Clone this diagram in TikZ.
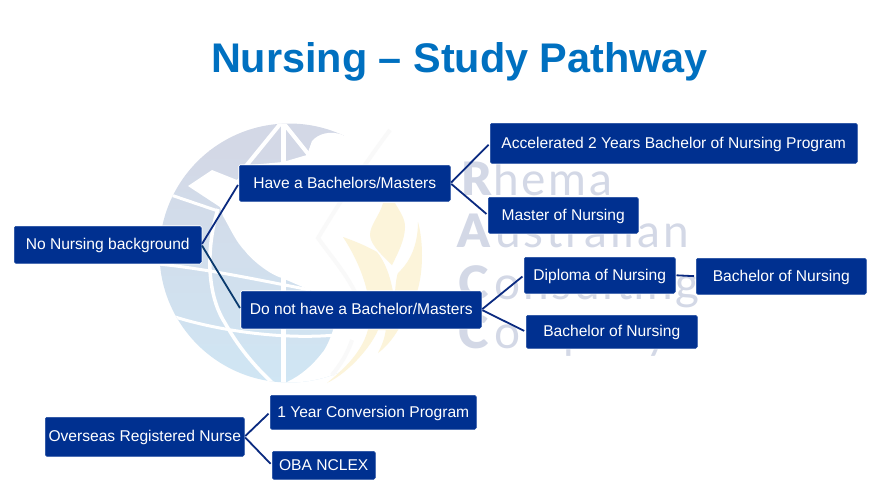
\documentclass[tikz,border=0pt]{standalone}
\usepackage{fontspec}
\setmainfont{Liberation Sans}
\newfontfamily\wmlight{Lato}[LetterSpace=6]
\newfontfamily\wmbold{Lato Black}
\definecolor{boxblue}{HTML}{003090}
\definecolor{boxedge}{HTML}{1F4BA0}
\definecolor{linkblue}{HTML}{0A2A80}
\definecolor{linkteal}{HTML}{0A3A6E}
\definecolor{titleblue}{HTML}{0070C0}
\definecolor{wmgrey}{HTML}{D3D8E6}
\definecolor{wmblue}{HTML}{D0E6F4}
\definecolor{wmflame}{HTML}{FCF4DA}
\definecolor{wmswoosh}{HTML}{F9F9F9}
\tikzset{
  stepbox/.style={draw=boxedge,line width=0.5pt,fill=boxblue,rounded corners=1.5pt,text=white,
    font=\fontsize{15.6}{17}\selectfont,inner sep=0pt,anchor=north west,text height=11pt,text depth=1pt,
    preaction={draw=white,line width=2pt}},
  link/.style={draw=linkblue,line width=1.8pt,shorten >=2pt,shorten <=1pt},
  wmlet/.style={text=wmgrey,anchor=base west,inner sep=0pt,font=\wmlight\fontsize{46}{46}\selectfont},
  wmcap/.style={text=wmgrey,anchor=base west,inner sep=0pt,font=\wmbold\fontsize{46}{46}\selectfont},
  gridline/.style={white,line width=3pt}
}
\begin{document}
\begin{tikzpicture}[x=1pt,y=-1pt]
\useasboundingbox (0,0) rectangle (871,499);
\fill[white] (0,0) rectangle (871,499);
% watermark globe
\begin{scope}
  \clip (289,253) circle (129.5);
  \shade[top color=wmgrey,bottom color=wmblue] (155,150) rectangle (345,385);
  \fill[wmgrey] (155,120) rectangle (345,151);
  % white cut on the right side of the globe
  \fill[white] (343,135) .. controls (330,130) and (318,134) .. (312,141) -- (307,155) -- (283,162) -- (250,165) -- (237,180)
    -- (212,170) -- (188,186) -- (220,207) -- (223,216) .. controls (230,228) and (236,242) .. (245,251)
    .. controls (250,258) and (268,274) .. (282,278) -- (305,288) -- (345,305) -- (333,330)
    .. controls (330,340) and (325,350) .. (322,353) .. controls (312,366) and (300,376) .. (287,382)
    -- (287,400) -- (430,400) -- (430,100) -- (343,100) -- cycle;
  % grid lines
  \draw[gridline] (168,194) -- (218,211);
  \draw[gridline,line width=3.5pt] (218,209) .. controls (208,240) and (204,290) .. (225,323) .. controls (240,350) and (258,370) .. (278,388);
  \draw[gridline] (158,264) .. controls (200,268) and (250,278) .. (310,290);
  \draw[gridline] (172,316) .. controls (215,330) and (280,340) .. (336,335);
  \draw[gridline,line width=5pt] (283,120) -- (283,162);
  \draw[gridline,line width=5pt] (283,270) -- (283,390);
  \draw[gridline,line width=4pt] (281,123) -- (246,166);
  \draw[gridline,line width=4pt] (285,125) -- (309,155);
\end{scope}
% faint swoosh
\draw[wmswoosh,line width=4pt] (390,130) .. controls (360,170) and (335,210) .. (318,238) .. controls (330,255) and (345,272) .. (355,292);
\draw[wmswoosh,line width=4pt] (352,340) .. controls (347,355) and (340,365) .. (332,375);
% watermark flame
\fill[wmflame] (383,203) -- (395,203) .. controls (400,212) and (405,218) .. (405,227) .. controls (405,240) and (397,255) .. (392,265) .. controls (385,258) and (370,245) .. (370,235) .. controls (370,225) and (380,215) .. (383,203) -- cycle;
\fill[wmflame] (343,237) .. controls (360,243) and (370,248) .. (377,252) .. controls (385,262) and (390,275) .. (393,292) -- (390,330) -- (378,330) .. controls (372,345) and (350,372) .. (327,383) .. controls (345,368) and (372,345) .. (370,310) .. controls (368,285) and (358,260) .. (343,237) -- cycle;
\fill[wmflame] (418,222) .. controls (423,240) and (424,270) .. (417,292) -- (398,330) .. controls (392,340) and (385,348) .. (378,353) .. controls (382,345) and (385,338) .. (386,328) -- (395,292) .. controls (396,280) and (397,275) .. (398,273) .. controls (410,262) and (418,245) .. (418,222) -- cycle;
% watermark text
\node[wmcap] (wmR) at (461,195) {R};
\node[wmlet] (wmh) at (493,195) {hema};
\node[wmcap] (wmA) at (457,247) {A};
\node[wmlet] (wmu) at (495,247) {ustralian};
\node[wmcap] (wmC) at (458,299) {C};
\node[wmlet] (wmo) at (494,299) {onsulting};
\node[wmcap] (wmD) at (458,348) {C};
\node[wmlet] (wmp) at (494,348) {ompany};
% title
\node[text=titleblue,font=\bfseries\fontsize{41.4}{44}\selectfont,inner sep=0pt] (title) at (459.5,62) {Nursing – Study Pathway};
% boxes
\node[stepbox,minimum width=187pt,minimum height=37pt] (nn) at (14,226) {No Nursing background};
\node[stepbox,minimum width=211pt,minimum height=36pt] (hb) at (239,165) {Have a Bachelors/Masters};
\node[stepbox,minimum width=240pt,minimum height=37pt] (dn) at (241,291) {Do not have a Bachelor/Masters};
\node[stepbox,minimum width=367pt,minimum height=40pt] (ac) at (490,123) {Accelerated 2 Years Bachelor of Nursing Program};
\node[stepbox,minimum width=150pt,minimum height=36pt] (mn) at (488,197) {Master of Nursing};
\node[stepbox,minimum width=151pt,minimum height=36pt] (dp) at (524,257) {Diploma of Nursing};
\node[stepbox,minimum width=170pt,minimum height=36pt] (b1) at (696,258) {Bachelor of Nursing};
\node[stepbox,minimum width=171pt,minimum height=33pt] (b2) at (526,315) {Bachelor of Nursing};
\node[stepbox,minimum width=199pt,minimum height=39pt] (ov) at (45,417) {Overseas Registered Nurse};
\node[stepbox,minimum width=206pt,minimum height=34pt] (yr) at (270,395) {1 Year Conversion Program};
\node[stepbox,minimum width=103pt,minimum height=28pt] (ob) at (272,451) {OBA NCLEX};
% connectors
\draw[link] (nn.east) -- (hb.west);
\draw[link,draw=linkteal] (nn.east) -- (dn.west);
\draw[link] (hb.east) -- (ac.west);
\draw[link] (hb.east) -- (mn.west);
\draw[link] (dn.east) -- (dp.west);
\draw[link] (dn.east) -- (b2.west);
\draw[link] (dp.east) -- (b1.west);
\draw[link] (ov.east) -- (yr.west);
\draw[link] (ov.east) -- (ob.west);
\end{tikzpicture}
\end{document}
